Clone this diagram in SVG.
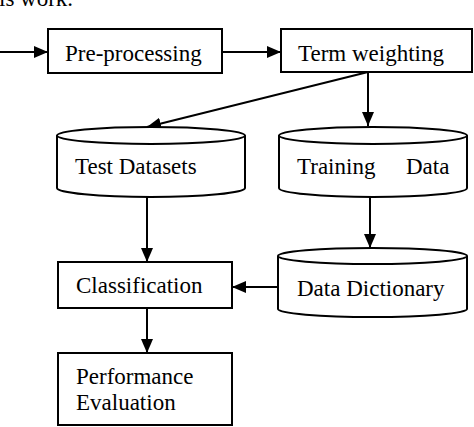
<svg xmlns="http://www.w3.org/2000/svg" width="474" height="427" viewBox="0 0 474 427">
<defs>
<style>
.box{fill:#fff;stroke:#000;stroke-width:2}
.cyl{fill:#fff;stroke:#000;stroke-width:2}
.t{font-family:'Liberation Serif','DejaVu Serif',serif;font-size:23px;fill:#000}
.c{fill:none;stroke:#000;stroke-width:2}
</style>
<marker id="a" viewBox="0 0 14 12" refX="14" refY="6" markerWidth="14" markerHeight="12" markerUnits="userSpaceOnUse" orient="auto">
<path d="M0,0 L14,6 L0,12 z" fill="#000"/>
</marker>
</defs>
<rect width="474" height="427" fill="#fff"/>
<text class="t" font-family="Liberation Serif, serif" x="-1" y="6">is work.</text>
<g id="connectors">
<line class="c" x1="0" y1="52" x2="48" y2="52" marker-end="url(#a)"/>
<line class="c" x1="222" y1="52" x2="281" y2="52" marker-end="url(#a)"/>
<line class="c" x1="368" y1="72" x2="147" y2="127" marker-end="url(#a)"/>
<line class="c" x1="368" y1="72" x2="368" y2="126" marker-end="url(#a)"/>
<line class="c" x1="147" y1="197" x2="147" y2="262" marker-end="url(#a)"/>
<line class="c" x1="370" y1="197" x2="370" y2="248" marker-end="url(#a)"/>
<line class="c" x1="278" y1="287" x2="232" y2="287" marker-end="url(#a)"/>
<line class="c" x1="147" y1="308" x2="147" y2="353" marker-end="url(#a)"/>
</g>
<g id="preprocessing">
<rect class="box" x="48" y="29" width="174" height="44"/>
<text class="t" font-family="Liberation Serif, serif" x="65" y="61">Pre-processing</text>
</g>
<g id="termweighting">
<rect class="box" x="281" y="29" width="191" height="43"/>
<text class="t" font-family="Liberation Serif, serif" x="298" y="61">Term weighting</text>
</g>
<g id="testdatasets">
<path class="cyl" d="M57,135.5 A94,8.5 0 0 1 245,135.5 L245,188 A94,9 0 0 1 57,188 Z"/>
<path class="c" d="M57,135.5 A94,8.5 0 0 0 245,135.5"/>
<text class="t" font-family="Liberation Serif, serif" x="75" y="174">Test Datasets</text>
</g>
<g id="trainingdata">
<path class="cyl" d="M279,135.5 A94,8.5 0 0 1 467,135.5 L467,188 A94,9 0 0 1 279,188 Z"/>
<path class="c" d="M279,135.5 A94,8.5 0 0 0 467,135.5"/>
<text class="t" font-family="Liberation Serif, serif" x="297" y="174">Training</text>
<text class="t" font-family="Liberation Serif, serif" x="406" y="174">Data</text>
</g>
<g id="datadictionary">
<path class="cyl" d="M278,256 A94.5,8 0 0 1 467,256 L467,309 A94.5,8 0 0 1 278,309 Z"/>
<path class="c" d="M278,256 A94.5,8 0 0 0 467,256"/>
<text class="t" font-family="Liberation Serif, serif" x="297" y="296">Data Dictionary</text>
</g>
<g id="classification">
<rect class="box" x="58" y="262" width="174" height="46"/>
<text class="t" font-family="Liberation Serif, serif" x="76" y="293">Classification</text>
</g>
<g id="performance">
<rect class="box" x="58" y="353" width="174" height="72"/>
<text class="t" font-family="Liberation Serif, serif" x="76" y="384">Performance</text>
<text class="t" font-family="Liberation Serif, serif" x="76" y="410">Evaluation</text>
</g>
</svg>
